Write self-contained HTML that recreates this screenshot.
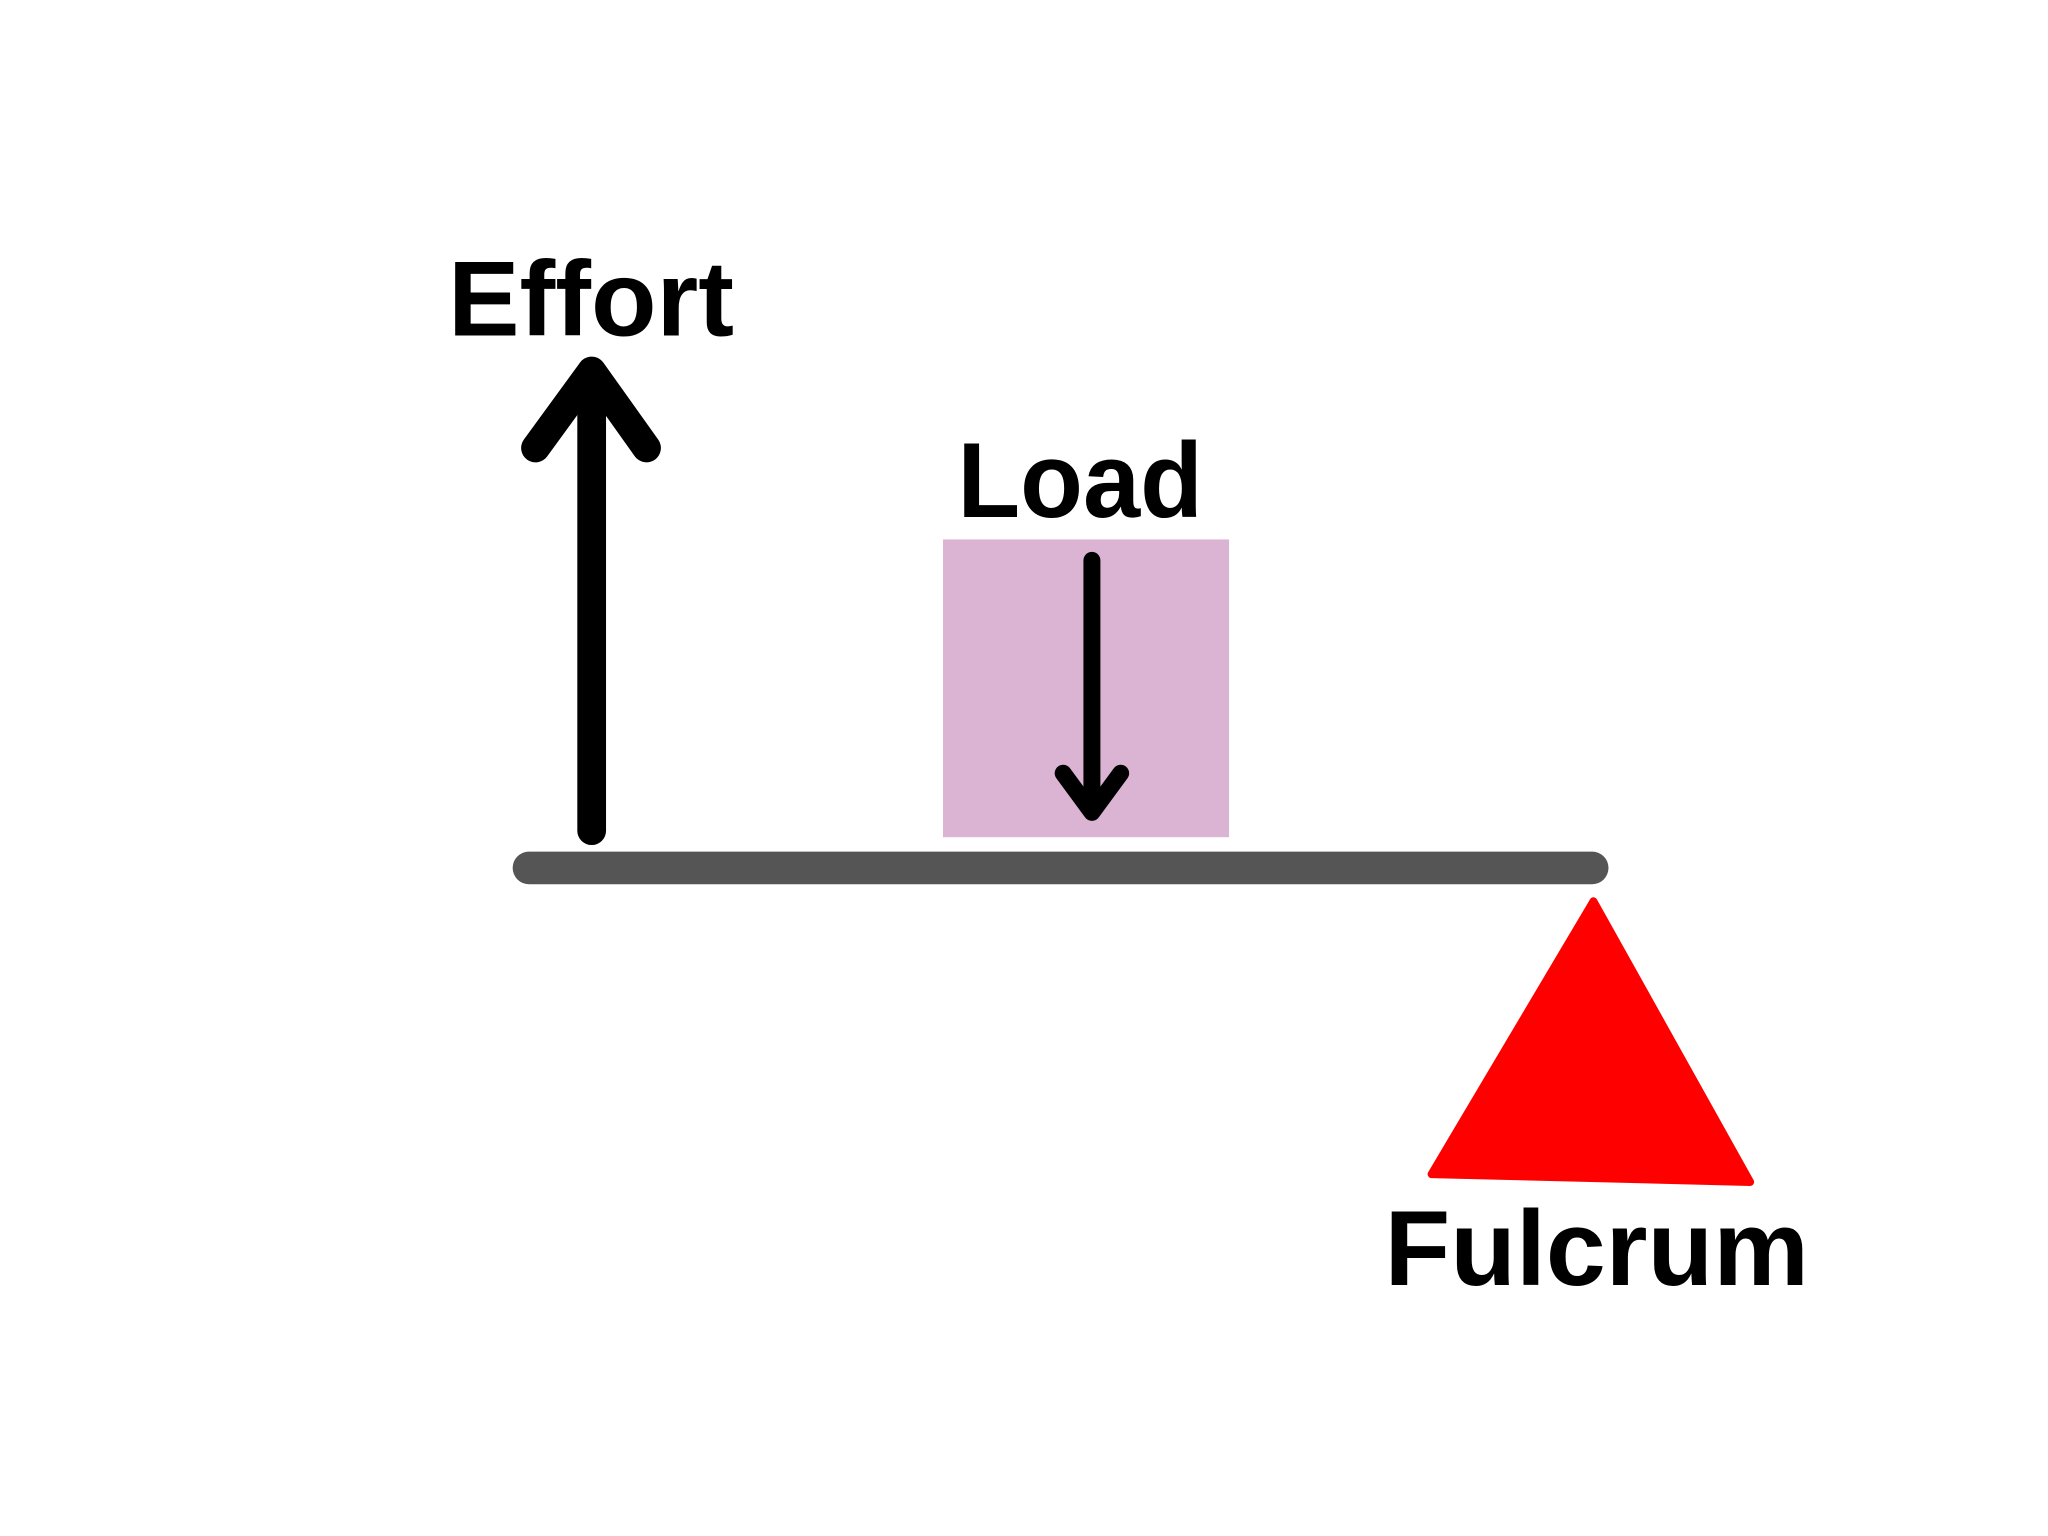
<!DOCTYPE html>
<html><head><meta charset="utf-8"><style>html,body{margin:0;padding:0;background:#fff;}svg{display:block}</style></head>
<body>
<svg width="2048" height="1536" viewBox="0 0 1568 1176" xmlns="http://www.w3.org/2000/svg">
<rect width="1568" height="1176" fill="#fff"/>
<g font-family="Liberation Sans, sans-serif" font-weight="bold" fill="#000" font-size="82">
<text x="343" y="257" textLength="219" lengthAdjust="spacingAndGlyphs">Effort</text>
<text x="733" y="396" textLength="188" lengthAdjust="spacingAndGlyphs">Load</text>
<text x="1060" y="984" textLength="325" lengthAdjust="spacingAndGlyphs">Fulcrum</text>
</g>
<rect x="722" y="413" width="219" height="228" fill="#dbb4d4"/>
<line x1="453" y1="636" x2="453" y2="292" stroke="#000" stroke-width="22" stroke-linecap="round"/>
<polyline points="410,343 453,284 495,343" fill="none" stroke="#000" stroke-width="22" stroke-linejoin="round" stroke-linecap="round"/>
<line x1="836" y1="429" x2="836" y2="620" stroke="#000" stroke-width="13" stroke-linecap="round"/>
<polyline points="814,592 836,622 858,592" fill="none" stroke="#000" stroke-width="13" stroke-linejoin="round" stroke-linecap="round"/>
<line x1="405" y1="664.5" x2="1219" y2="664.5" stroke="#555" stroke-width="25" stroke-linecap="round"/>
<polygon points="1220,690 1096,899 1340,905" fill="#ff0000" stroke="#ff0000" stroke-width="6" stroke-linejoin="round"/>
</svg>
</body></html>
